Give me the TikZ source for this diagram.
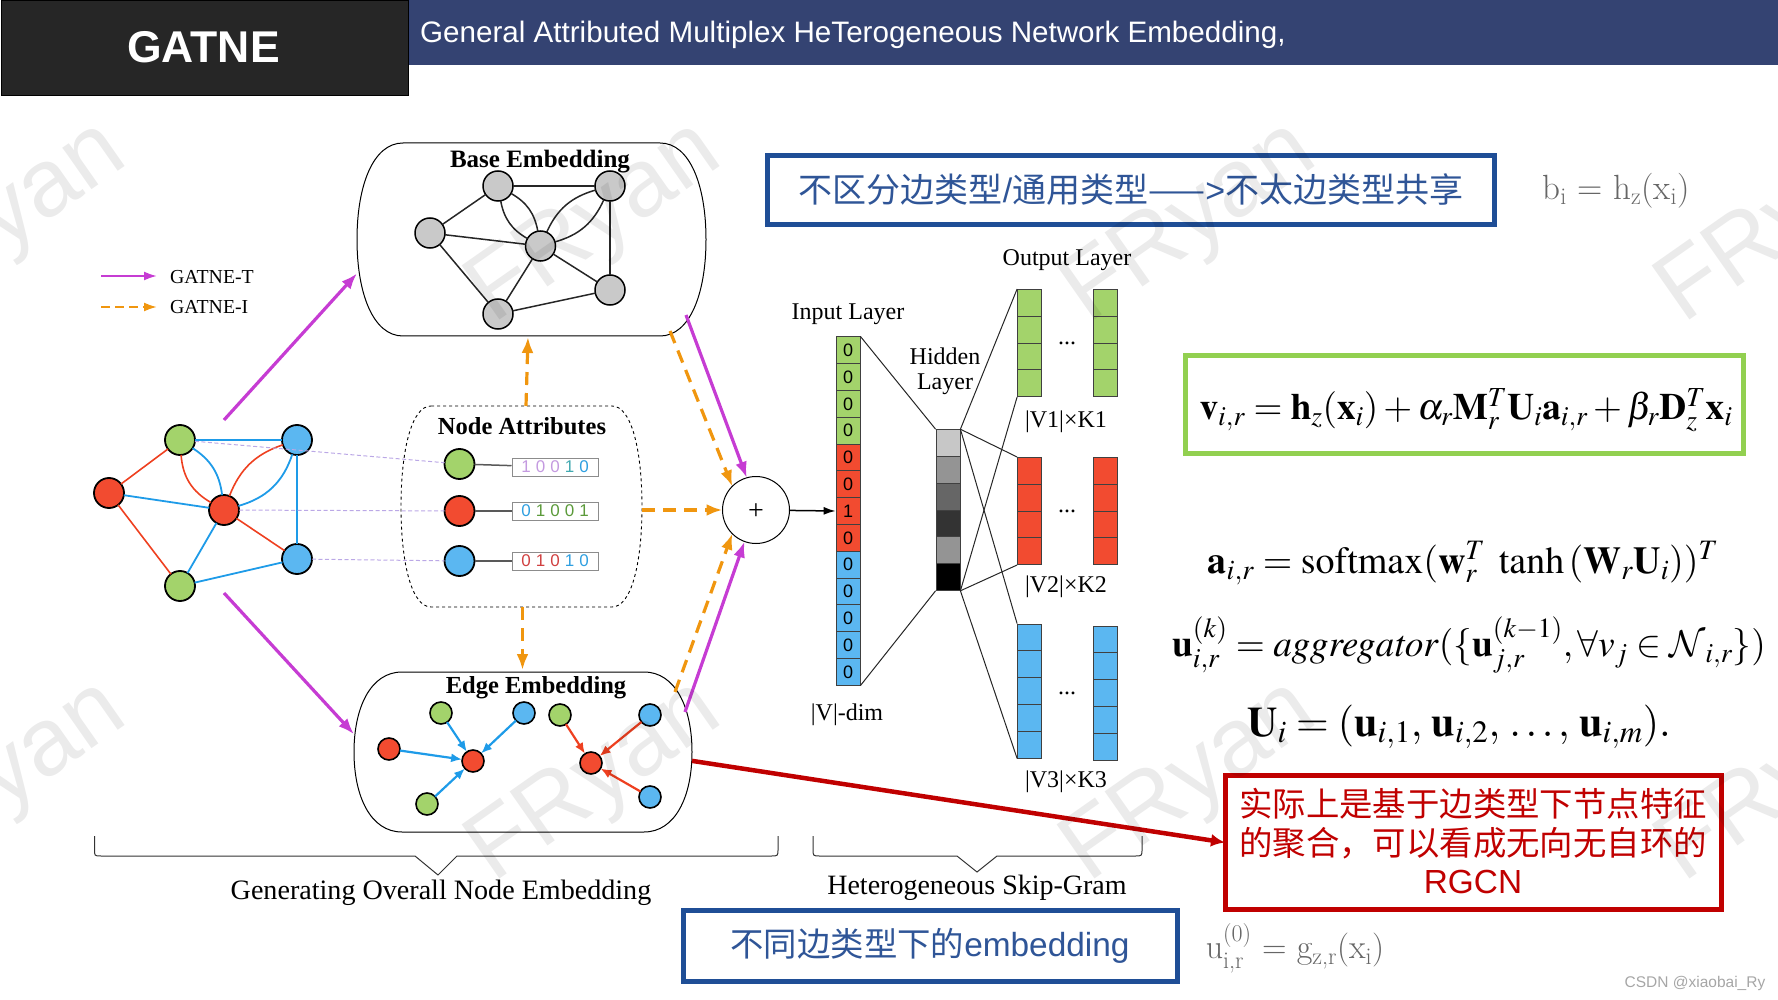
\documentclass[tikz,border=0pt]{standalone}
\usepackage{amsmath,amssymb}
\usepackage{mathptmx}
\usepackage[no-math]{fontspec}
\setmainfont{Liberation Serif}
\setsansfont{Liberation Sans}
\newfontfamily\cjk{Noto Sans CJK SC}
\newfontfamily\lmfont{Latin Modern Roman}
\DeclareMathAlphabet{\mathcalcm}{OMS}{cmsy}{m}{n}
\usepackage{tikz}
\usetikzlibrary{calc, matrix, arrows.meta}
\tikzset{>=latex}
\definecolor{gatgreen}{HTML}{A3D36B}
\definecolor{gatred}{HTML}{F24B30}
\definecolor{gatblue}{HTML}{5BB7F1}
\definecolor{gatgray}{HTML}{C9C9C9}
\definecolor{gatpurple}{HTML}{C63CD3}
\definecolor{gatorange}{HTML}{F0960F}
\definecolor{edgeblue}{HTML}{1E9BE8}
\definecolor{edgered}{HTML}{EE4020}
\definecolor{headblue}{HTML}{344372}
\definecolor{headblack}{HTML}{262626}
\definecolor{notegreen}{HTML}{92D050}
\definecolor{noteblue}{HTML}{1F4E96}
\definecolor{textblue}{HTML}{2F5597}
\definecolor{notered}{HTML}{C00000}
\definecolor{formgray}{HTML}{666666}
\definecolor{linkpurple}{HTML}{BBA8E6}
\definecolor{bitpurple}{HTML}{C49AE0}
\definecolor{bitteal}{HTML}{41A9B0}
\definecolor{bitblue}{HTML}{2F9FE0}
\definecolor{bitgreen}{HTML}{5B9A3A}
\definecolor{bitred}{HTML}{D04040}
\tikzset{
capbox/.style={rectangle, inner sep=0pt, outer sep=0pt},
capline/.style={draw=black, line width=1pt},
gnode/.style={circle, draw=black, line width=1.8pt, minimum size=30pt, inner sep=0pt, outer sep=0pt},
bnode/.style={gnode, fill=gatgray, line width=1.5pt},
enode/.style={gnode, minimum size=22pt, line width=1.6pt},
pflow/.style={draw=gatpurple, line width=3.2pt, ->, >={Latex[length=16pt,width=12pt]}},
oflow/.style={draw=gatorange, line width=3.2pt, dash pattern=on 13pt off 8pt, ->, >={Latex[length=16pt,width=12pt]}},
link/.style={draw=linkpurple, line width=1pt, dash pattern=on 4pt off 2.5pt},
bitbox/.style={rectangle, draw=black!45, line width=1pt, minimum width=86pt, minimum height=18pt, inner sep=0pt, font=\sffamily\fontsize{17}{17}\selectfont},
cellcol/.style={matrix of nodes, inner sep=0pt, outer sep=0pt, row sep=-0.8pt},
cell/.style={rectangle, draw=black!75, line width=0.8pt, minimum width=24pt, minimum height=26.8pt, inner sep=0pt, font=\sffamily\fontsize{18}{18}\selectfont},
tlabel/.style={inner sep=0pt, font=\fontsize{24}{26}\selectfont},
box/.style={rectangle, line width=5pt, inner sep=0pt, outer sep=0pt, draw=#1},
wmark/.style={rotate=35, inner sep=0pt, text=black, opacity=0.08, font=\sffamily\fontsize{96}{96}\selectfont}
}
\newcommand{\capsule}[6]{
\node[capbox, minimum width=#3pt, minimum height=#4pt] (#1) at (#2) {};
\draw[capline, #6] ([xshift=#5pt]#1.north west) -- ([xshift=-#5pt]#1.north east)
.. controls ([xshift=-#5pt*0.35]#1.north east) and ([yshift=-#4pt*0.22]#1.north east) .. (#1.east)
.. controls ([yshift=#4pt*0.22]#1.south east) and ([xshift=-#5pt*0.35]#1.south east) .. ([xshift=-#5pt]#1.south east)
-- ([xshift=#5pt]#1.south west)
.. controls ([xshift=#5pt*0.35]#1.south west) and ([yshift=#4pt*0.22]#1.south west) .. (#1.west)
.. controls ([yshift=-#4pt*0.22]#1.north west) and ([xshift=#5pt*0.35]#1.north west) .. ([xshift=#5pt]#1.north west) -- cycle;
}
\newcommand{\onebit}[2]{\makebox[14.5pt]{\textcolor{#1}{#2}}}
\newcommand{\lmscr}[1]{\hbox{\fontsize{24}{24}\lmfont #1}}
\begin{document}
\begin{tikzpicture}[x=1pt, y=-1pt]
\useasboundingbox (0,0) rectangle (1778,1000);

\node[rectangle, fill=headblue, minimum width=1369pt, minimum height=64.5pt, inner sep=0pt, anchor=north west] (headbar) at (409,0) {};
\node[rectangle, fill=headblack, draw=black, line width=1pt, minimum width=407pt, minimum height=95pt, inner sep=0pt, anchor=north west] (headname) at (0.5,0.5) {};
\node[text=white, font=\sffamily\bfseries\fontsize{44.5}{46}\selectfont] (gatne) at (203.5,47) {GATNE};
\node[text=white, anchor=west, inner sep=0pt, font=\sffamily\fontsize{29.6}{32}\selectfont] (headtext) at (420,35) {General Attributed Multiplex HeTerogeneous Network Embedding,};

\coordinate (legTs) at (101,276);
\coordinate (legIs) at (101,307);
\node[tlabel, anchor=west, font=\fontsize{19.8}{22}\selectfont] (legT) at (170,277) {GATNE-T};
\node[tlabel, anchor=west, font=\fontsize{19.8}{22}\selectfont] (legI) at (170,307) {GATNE-I};
\draw[pflow, line width=2pt, >={Latex[length=13pt,width=9pt]}] (legTs) -- ([xshift=-13pt]legT.west |- legTs);
\draw[oflow, line width=2pt, dash pattern=on 9pt off 5pt, >={Latex[length=13pt,width=9pt]}] (legIs) -- ([xshift=-13pt]legI.west |- legIs);

\node[gnode, fill=gatred] (nr1) at (109,493) {};
\node[gnode, fill=gatgreen] (ng1) at (180,440) {};
\node[gnode, fill=gatblue] (nb1) at (297,440) {};
\node[gnode, fill=gatred] (nr2) at (224,510) {};
\node[gnode, fill=gatblue] (nb2) at (297,559) {};
\node[gnode, fill=gatgreen] (ng2) at (180,586) {};
\path[edgeblue, line width=1.8pt]
(ng1) edge (nb1)
(nr1) edge (nr2)
(ng1) edge[bend left=25] (nr2)
(nb1) edge[bend left=28] (nr2)
(nb1) edge (nb2)
(nr2) edge (ng2)
(ng2) edge (nb2)
;
\path[edgered, line width=1.6pt]
(ng1) edge (nr1)
(nr1) edge (ng2)
(ng1) edge[bend right=28] (nr2)
(nb1) edge[bend right=25] (nr2)
(nr2) edge (nb2)
;

\capsule{base}{531.5,239.5}{349}{193}{46}{}
\node[inner sep=0pt, font=\bfseries\fontsize{25}{26}\selectfont] (basetitle) at (540,162) {Base Embedding};
\node[bnode] (bn1) at (498,186) {};
\node[bnode] (bn2) at (610,186) {};
\node[bnode] (bn3) at (430,233) {};
\node[bnode] (bn4) at (540.5,246) {};
\node[bnode] (bn5) at (610,290) {};
\node[bnode] (bn6) at (498,314) {};
\path[black!85, line width=1.5pt]
(bn1) edge (bn2)
(bn1) edge (bn3)
(bn3) edge (bn4)
(bn3) edge (bn6)
(bn1) edge[bend left=25] (bn4)
(bn1) edge[bend right=25] (bn4)
(bn2) edge[bend left=25] (bn4)
(bn2) edge[bend right=25] (bn4)
(bn2) edge (bn5)
(bn4) edge (bn5)
(bn4) edge (bn6)
(bn6) edge (bn5)
;

\capsule{attrs}{521.5,506.5}{241}{201}{30}{dashed, line width=0.9pt}
\node[inner sep=0pt, font=\bfseries\fontsize{24.5}{26}\selectfont] (attrtitle) at (522,426) {Node Attributes};
\node[gnode, fill=gatgreen] (ag) at (459.5,464) {};
\node[gnode, fill=gatred] (ar) at (459.5,511) {};
\node[gnode, fill=gatblue] (ab) at (459.5,561) {};
\node[bitbox] (bitg) at (555,467) {\onebit{bitpurple}{1}\onebit{bitpurple}{0}\onebit{bitpurple}{0}\onebit{bitteal}{1}\onebit{bitblue}{0}};
\node[bitbox] (bitr) at (555,511) {\onebit{bitblue}{0}\onebit{bitgreen}{1}\onebit{bitgreen}{0}\onebit{bitgreen}{0}\onebit{bitgreen}{1}};
\node[bitbox] (bitb) at (555,561) {\onebit{bitred}{0}\onebit{bitred}{1}\onebit{bitred}{0}\onebit{bitblue}{1}\onebit{bitblue}{0}};
\path[black!65, line width=1.5pt]
(ag) edge (bitg)
(ar) edge (bitr)
(ab) edge (bitb)
;
\path[link]
(ng1) edge (ag)
(nr2) edge (ar)
(nb2) edge (ab)
;

\capsule{edgebox}{523,752}{338}{160}{48}{}
\node[inner sep=0pt, font=\bfseries\fontsize{24.5}{26}\selectfont] (edgetitle) at (536,688) {Edge Embedding};
\node[enode, fill=gatgreen] (eg1) at (441,713) {};
\node[enode, fill=gatblue] (eb1) at (524,713) {};
\node[enode, fill=gatred] (er1) at (389,749) {};
\node[enode, fill=gatred] (ec1) at (473,761) {};
\node[enode, fill=gatgreen] (eg2) at (427,804) {};
\node[enode, fill=gatgreen] (eg3) at (560,715) {};
\node[enode, fill=gatblue] (eb2) at (650,715) {};
\node[enode, fill=gatred] (ec2) at (591,763) {};
\node[enode, fill=gatblue] (eb3) at (650,797) {};
\path[->, >={Latex[length=11pt,width=9pt]}, edgeblue, line width=2.2pt]
(eg1) edge (ec1)
(eb1) edge (ec1)
(er1) edge (ec1)
(eg2) edge (ec1)
;
\path[->, >={Latex[length=11pt,width=9pt]}, edgered, line width=2.2pt]
(eg3) edge (ec2)
(eb2) edge (ec2)
(eb3) edge (ec2)
;

\node[circle, draw=black, line width=1pt, minimum size=67pt, inner sep=0pt, outer sep=0pt, font=\fontsize{28}{28}\selectfont] (plus) at (756,510) {};
\node[inner sep=0pt, font=\fontsize{28}{28}\selectfont] (plussign) at (756,512) {+};

\coordinate (upstart) at (224,420);
\coordinate (downstart) at (224,593);
\draw[pflow] (upstart) -- (base.-169.3);
\draw[pflow] (downstart) -- (edgebox.174.6);
\draw[pflow] (686,315) -- (plus.106);
\draw[pflow] (685,712) -- (plus.-110);
\draw[oflow] (670,331) -- (plus.135);
\draw[oflow] (675,692) -- (plus.-135);
\draw[oflow] (attrs.east |- plus) -- (plus.west);
\draw[oflow] (526,406) -- (528,337);
\draw[oflow] (522.5,607) -- (522.5,670);

\matrix (inlayer) [cellcol, nodes={cell}] at (848,511)
{
|[fill=gatgreen]| 0 \\
|[fill=gatgreen]| 0 \\
|[fill=gatgreen]| 0 \\
|[fill=gatgreen]| 0 \\
|[fill=gatred]| 0 \\
|[fill=gatred]| 0 \\
|[fill=gatred]| 1 \\
|[fill=gatred]| 0 \\
|[fill=gatblue]| 0 \\
|[fill=gatblue]| 0 \\
|[fill=gatblue]| 0 \\
|[fill=gatblue]| 0 \\
|[fill=gatblue]| 0 \\
};
\matrix (hidden) [cellcol, nodes={cell}] at (948,510)
{
|[fill=black!22]| {} \\
|[fill=black!42]| {} \\
|[fill=black!60]| {} \\
|[fill=black!80]| {} \\
|[fill=black!42]| {} \\
|[fill=black]| {} \\
};
\matrix (outga) [cellcol, nodes={cell, fill=gatgreen}] at (1029.5,343) {{} \\ {} \\ {} \\ {} \\};
\matrix (outgb) [cellcol, nodes={cell, fill=gatgreen}] at (1105.5,343) {{} \\ {} \\ {} \\ {} \\};
\matrix (outra) [cellcol, nodes={cell, fill=gatred}] at (1029.5,511) {{} \\ {} \\ {} \\ {} \\};
\matrix (outrb) [cellcol, nodes={cell, fill=gatred}] at (1105.5,511) {{} \\ {} \\ {} \\ {} \\};
\matrix (outba) [cellcol, nodes={cell, fill=gatblue}] at (1029.5,691) {{} \\ {} \\ {} \\ {} \\ {} \\};
\matrix (outbb) [cellcol, nodes={cell, fill=gatblue}] at (1105.5,693) {{} \\ {} \\ {} \\ {} \\ {} \\};
\path[->, thick, >={Latex[length=12pt,width=8pt]}, line width=1.5pt]
(plus) edge (inlayer.west)
;
\path[black!85, line width=1pt]
(inlayer.north east) edge (hidden.north west)
(inlayer.south east) edge (hidden.south west)
(hidden.north east) edge (outga.north west)
(hidden.north east) edge (outra.north west)
(hidden.north east) edge (outba.north west)
(hidden.south east) edge (outga.south west)
(hidden.south east) edge (outra.south west)
(hidden.south east) edge (outba.south west)
;
\node[tlabel] (inputlabel) at (848,314.5) {Input Layer};
\node[tlabel] (hiddenlabela) at (945,356) {Hidden};
\node[tlabel] (hiddenlabelb) at (945,384) {Layer};
\node[tlabel] (outputlabel) at (1067,260.5) {Output Layer};
\node[tlabel] (dimlabel) at (847,715) {|V|-dim};
\node[tlabel] (vone) at (1066,421.5) {|V1|×K1};
\node[tlabel] (vtwo) at (1066,587) {|V2|×K2};
\node[tlabel] (vthree) at (1066,782) {|V3|×K3};
\node[tlabel] (dotsg) at (1067,343) {...};
\node[tlabel] (dotsr) at (1067,511) {...};
\node[tlabel] (dotsb) at (1067,693) {...};

\draw[black!80, line width=1pt] (94.5,836) -- (94.5,849) .. controls (94.5,856) .. (101,856) -- (415,856) -- (438,875) -- (457,856) -- (771,856) .. controls (778,856) .. (778,849) -- (778,836);
\draw[black!80, line width=1pt] (813,836) -- (813,849) .. controls (813,856) .. (820,856) -- (957,856) -- (977,872) -- (997,856) -- (1135,856) .. controls (1142,856) .. (1142,849) -- (1142,836);
\node[tlabel, font=\fontsize{28.1}{30}\selectfont] (genlabel) at (441,893) {Generating Overall Node Embedding};
\node[tlabel, font=\fontsize{28}{30}\selectfont] (skiplabel) at (977,888) {Heterogeneous Skip-Gram};

\node[box=noteblue, minimum width=727pt, minimum height=69pt, text=textblue, font=\fontsize{34}{36}\selectfont] (topnote) at (1131,190) {\cjk 不区分边类型{\sffamily /}通用类型——{\sffamily >}不太边类型共享};
\node[box=noteblue, minimum width=494pt, minimum height=71pt, text=textblue, font=\fontsize{33.4}{36}\selectfont] (lownote) at (930,946) {\cjk 不同边类型下的{\sffamily embedding}};
\node[box=notegreen, minimum width=558pt, minimum height=98pt] (greennote) at (1464.5,404.5) {};
\node[box=notered, minimum width=496pt, minimum height=134pt] (rednote) at (1473,842.5) {};
\node[text=notered, inner sep=0pt, align=center, font=\fontsize{33.4}{38.5}\selectfont] (redtext) at (1473,841.5) {\cjk 实际上是基于边类型下节点特征\\\cjk 的聚合，可以看成无向无自环的\\\sffamily RGCN};
\draw[->, draw=notered, line width=4.5pt, >={Latex[length=14pt,width=13pt]}] (edgebox.-3.7) -- (rednote.west);

\node[inner sep=0pt, font=\fontsize{37.2}{40}\selectfont] (vform) at (1466,410) {$\mathbf{v}_{i,r} = \mathbf{h}_z(\mathbf{x}_i) + \alpha_r\mathbf{M}_r^T\mathbf{U}_i\mathbf{a}_{i,r} + \beta_r\mathbf{D}_z^T\mathbf{x}_i$};
\node[inner sep=0pt, font=\fontsize{38}{40}\selectfont] (aform) at (1463,563) {$\mathbf{a}_{i,r} = \mathrm{softmax}(\mathbf{w}_r^T\ \tanh\,(\mathbf{W}_r\mathbf{U}_i))^T$};
\node[inner sep=0pt, font=\fontsize{37.4}{40}\selectfont] (uform) at (1469,645) {$\mathbf{u}_{i,r}^{(k)} = \mathit{aggregator}(\{\mathbf{u}_{j,r}^{(k-1)},\forall v_j\in\scalebox{1.5}{$\mathcalcm{N}$}_{i,r}\})$};
\node[inner sep=0pt, font=\fontsize{42}{44}\selectfont] (bigu) at (1459,727) {$\mathbf{U}_i = (\mathbf{u}_{i,1},\,\mathbf{u}_{i,2},\,\ldots,\,\mathbf{u}_{i,m}).$};
\node[inner sep=0pt, text=formgray, font=\fontsize{35}{37}\selectfont\lmfont] (bform) at (1616,191) {b$_{\lmscr{i}}$ = h$_{\lmscr{z}}$(x$_{\lmscr{i}}$)};
\node[inner sep=0pt, text=formgray, font=\fontsize{34}{36}\selectfont\lmfont] (uzero) at (1295,948) {u$^{\lmscr{(0)}}_{\lmscr{i,r}}$ = g$_{\lmscr{z,r}}$(x$_{\lmscr{i}}$)};
\node[inner sep=0pt, text=black!35, font=\sffamily\fontsize{15.5}{16}\selectfont] (csdn) at (1695,983) {CSDN @xiaobai\_Ry};

\foreach \wx in {1,596,1191,1786}
\foreach \wy in {225,784}
\node[wmark, name=wm\wx-\wy] at (\wx,\wy) {FRyan};
\end{tikzpicture}
\end{document}
